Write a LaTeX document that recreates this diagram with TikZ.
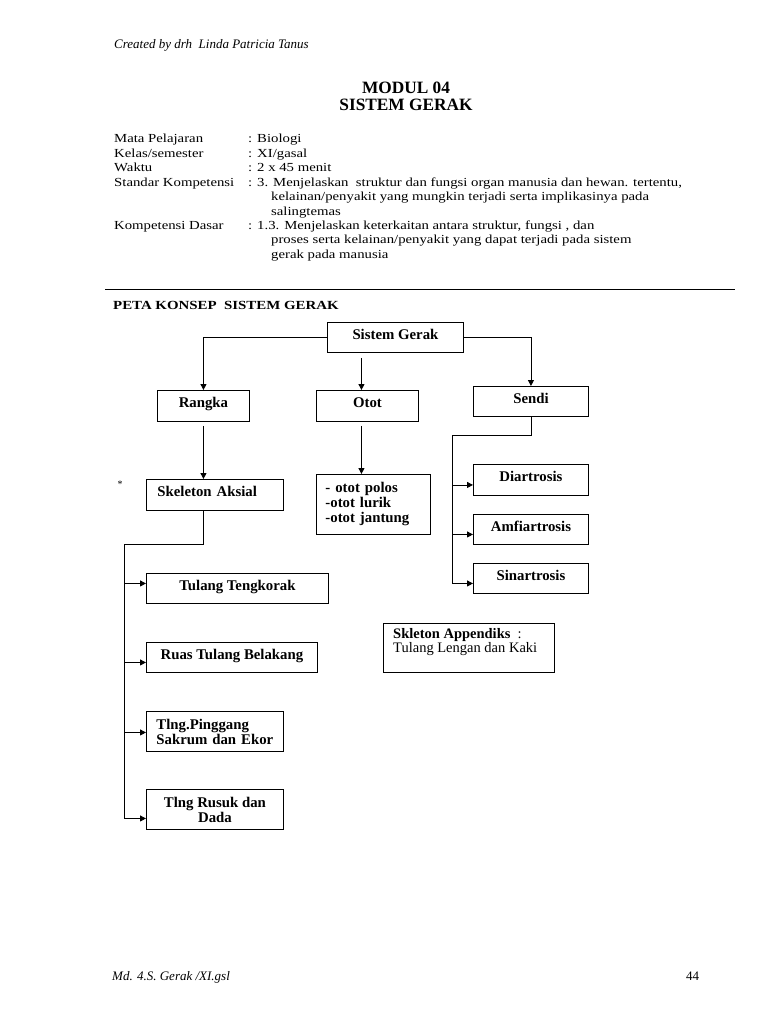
\documentclass[tikz,border=0pt]{standalone}
\usepackage{fontspec}
\setmainfont{Liberation Serif}
\newfontfamily\bodyf{Liberation Serif}[FakeStretch=1.2]
\usetikzlibrary{arrows.meta}
\tikzset{
  box/.style={draw, line width=0.9pt, inner sep=0pt, anchor=north west,
    font=\fontsize{14.8}{15}\selectfont\bfseries},
  one/.style={text height=9pt, text depth=5pt},
  arr/.style={line width=0.9pt, -{Triangle[length=6pt,width=6pt]}},
  ln/.style={line width=0.9pt},
  body/.style={anchor=mid west, inner sep=0pt, font=\bodyf\fontsize{12.3}{14.5}\selectfont},
  ttl/.style={anchor=center, inner sep=0pt, font=\fontsize{17.3}{20}\selectfont\bfseries},
  itl/.style={anchor=mid west, inner sep=0pt, font=\fontsize{13}{15}\selectfont\itshape}
}
\begin{document}
\begin{tikzpicture}[x=1pt,y=-1pt]
\fill[white] (0,0) rectangle (768,1024);
\useasboundingbox (0,0) rectangle (768,1024);

% header
\node[itl] (created) at (114,46) {Created by drh\ \ Linda Patricia Tanus};
\node[ttl] (modul) at (406,88) {MODUL 04};
\node[ttl] (judul) at (406,105) {SISTEM GERAK};

\node[body] (l1) at (114,140) {Mata Pelajaran};
\node[body] (l2) at (114,155) {Kelas/semester};
\node[body] (l3) at (114,169) {Waktu};
\node[body] (l4) at (114,184) {Standar Kompetensi};
\node[body] (l7) at (114,227) {Kompetensi Dasar};

\node[body] (c1) at (248,140) {:};
\node[body] (c2) at (248,155) {:};
\node[body] (c3) at (248,169) {:};
\node[body] (c4) at (248,184) {:};
\node[body] (c7) at (248,227) {:};

\node[body] (v1) at (257,140) {Biologi};
\node[body] (v2) at (257,155) {XI/gasal};
\node[body] (v3) at (257,169) {2 x 45 menit};
\node[body] (v4) at (257,184) {3. Menjelaskan\ \ struktur dan fungsi organ manusia dan hewan. tertentu,};
\node[body] (v5) at (271,198) {kelainan/penyakit yang mungkin terjadi serta implikasinya pada};
\node[body] (v6) at (271,213) {salingtemas};
\node[body] (v7) at (257,227) {1.3. Menjelaskan keterkaitan antara struktur, fungsi , dan};
\node[body] (v8) at (271,241) {proses serta kelainan/penyakit yang dapat terjadi pada sistem};
\node[body] (v9) at (271,256) {gerak pada manusia};

\draw[line width=0.8pt] (105,289) -- (735,289);

\node[body, anchor=west, font=\bodyf\fontsize{12.4}{15}\selectfont\bfseries] (peta) at (113,305) {PETA KONSEP\ \ SISTEM GERAK};

% boxes
\node[box, one, minimum width=136pt, minimum height=30pt] (sg) at (327,322) {Sistem Gerak};
\node[box, one, minimum width=92pt, minimum height=31pt] (rangka) at (157,390) {Rangka};
\node[box, one, minimum width=102pt, minimum height=31pt] (otot) at (316,390) {Otot};
\node[box, one, minimum width=115pt, minimum height=30pt] (sendi) at (473,386) {Sendi};

\node[box, one, minimum height=31pt, text width=115pt, inner xsep=11pt, align=left] (ska) at (146,479) {Skeleton Aksial};
\node[box, minimum height=60pt, text width=96pt, inner xsep=9pt, align=left] (list) at (316,474) {- otot polos\\-otot lurik\\-otot jantung};

\node[box, one, minimum width=115pt, minimum height=31pt] (dia) at (473,464) {Diartrosis};
\node[box, one, minimum width=115pt, minimum height=30pt] (amf) at (473,514) {Amfiartrosis};
\node[box, one, minimum width=115pt, minimum height=30pt] (sin) at (473,563) {Sinartrosis};

\node[box, one, minimum width=182pt, minimum height=30pt] (tt) at (146,573) {Tulang Tengkorak};
\node[box, one, minimum width=171pt, minimum height=30pt] (rtb) at (146,642) {Ruas Tulang Belakang};
\node[box, minimum height=40pt, text width=117pt, inner xsep=10pt, align=left] (tp) at (146,711) {Tlng.Pinggang\\Sakrum dan Ekor};
\node[box, minimum width=137pt, minimum height=40pt, align=center] (tr) at (146,789) {Tlng Rusuk dan\\Dada};

\node[box, minimum width=171pt, minimum height=49pt] (app) at (383,623) {};
\node[anchor=north west, inner sep=0pt, align=left, font=\fontsize{14.5}{14.5}\selectfont] (apptxt) at (393,628)
  {\textbf{Skleton Appendiks}\ \ :\\Tulang Lengan dan Kaki};

\node[inner sep=0pt, font=\fontsize{10}{10}\selectfont] (star) at (120,484) {*};

% connectors
\draw[arr] (sg.west) -| (rangka.north);
\draw[arr] (sg.east) -| (sendi.north);
\draw[arr] ([xshift=-6pt,yshift=-5pt]otot.north |- sg.south) -- ([xshift=-6pt]otot.north);
\draw[arr] ([yshift=-4pt]rangka.south) -- (rangka.south |- ska.north);
\draw[arr] ([xshift=-6pt,yshift=-4pt]otot.south) -- ([xshift=-6pt]otot.south |- list.north);

\coordinate (sj) at (452,435);
\draw[ln] (sendi.south) |- (sj) -- ([yshift=-5pt]sj |- sin.west);
\foreach \n in {dia,amf,sin}
  \draw[arr] ([yshift=-5pt]sj |- \n.west) -- ([yshift=-5pt]\n.west);

\coordinate (aj) at (124,544);
\draw[ln] (rangka.south |- ska.south) |- (aj) -- ([yshift=-9pt]aj |- tr.west);
\draw[arr] ([yshift=5pt]aj |- tt.west) -- ([yshift=5pt]tt.west);
\draw[arr] ([yshift=-5pt]aj |- rtb.west) -- ([yshift=-5pt]rtb.west);
\draw[arr] ([yshift=-1pt]aj |- tp.west) -- ([yshift=-1pt]tp.west);
\draw[arr] ([yshift=-9pt]aj |- tr.west) -- ([yshift=-9pt]tr.west);

% footer
\node[itl] (foot) at (112,978) {Md. 4.S. Gerak /XI.gsl};
\node[body, font=\fontsize{13}{15}\selectfont] (page) at (686,978) {44};
\end{tikzpicture}
\end{document}
